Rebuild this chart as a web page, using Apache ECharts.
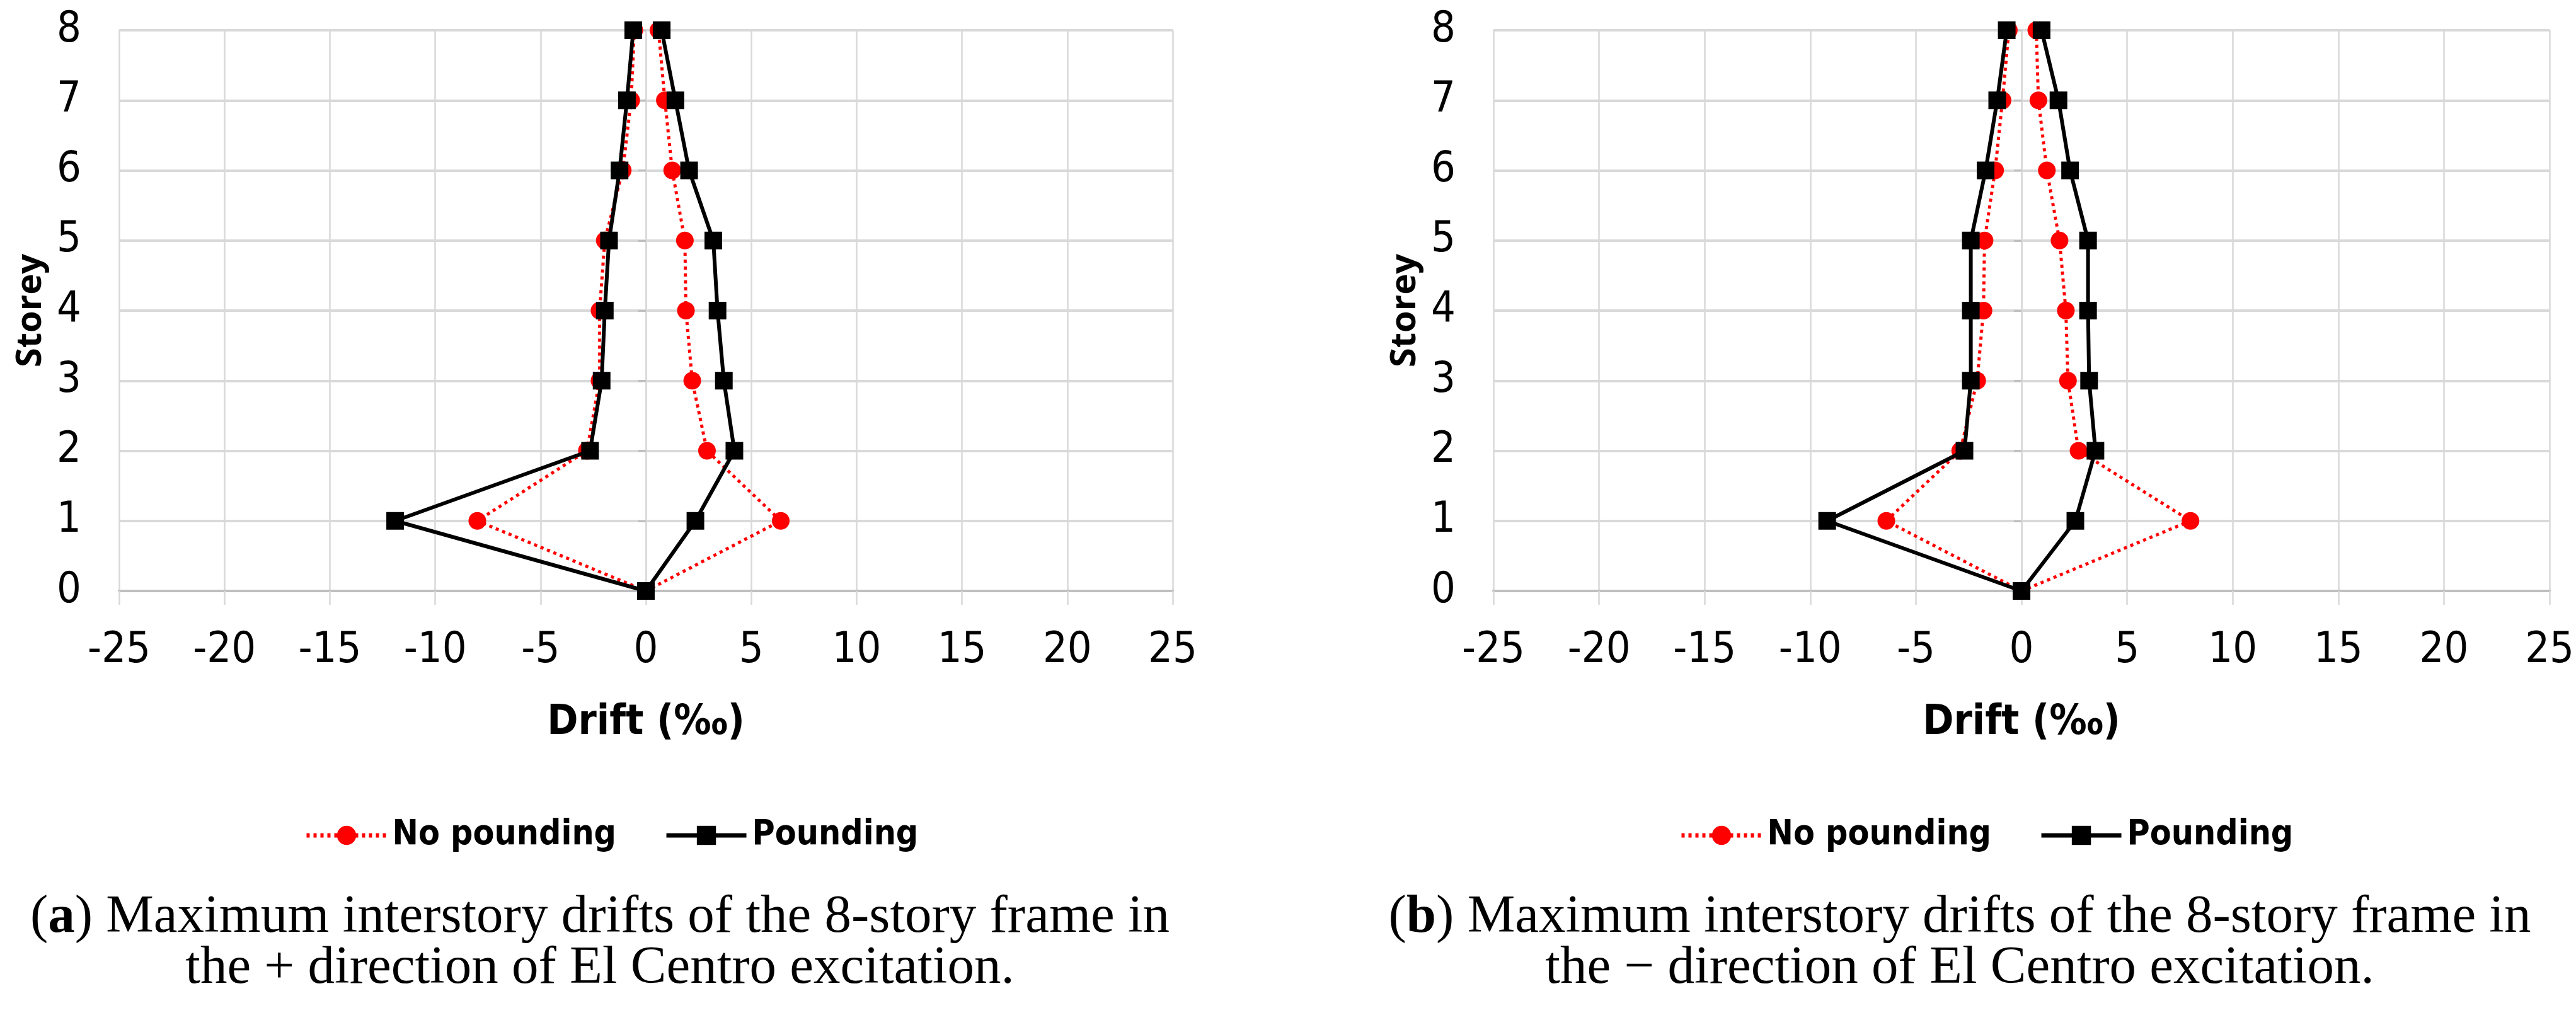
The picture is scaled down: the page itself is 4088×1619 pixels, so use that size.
<!DOCTYPE html>
<html lang="en">
<head>
    <meta charset="UTF-8">
    <title>Maximum interstory drifts</title>
    <script src="https://cdn.jsdelivr.net/npm/echarts/dist/echarts.min.js"></script>
</head>
<body style="margin: 0; background: #fff">
    <div id="chart" style="width: 4088px; height: 1619px;"></div>
    <script>
        // storeys 0..8 (y axis)
        const storeys = [0, 1, 2, 3, 4, 5, 6, 7, 8];

        // (a) + direction of El Centro, drift in ‰
        const noPoundPosA = [0, 6.4, 2.9, 2.2, 1.9, 1.85, 1.25, 0.9, 0.6];
        const noPoundNegA = [0, -8.0, -2.8, -2.2, -2.2, -1.95, -1.1, -0.7, -0.55];
        const poundPosA = [0, 2.35, 4.2, 3.7, 3.4, 3.2, 2.05, 1.4, 0.75];
        const poundNegA = [0, -11.9, -2.65, -2.1, -1.95, -1.75, -1.25, -0.9, -0.6];

        // (b) − direction of El Centro
        const noPoundPosB = [0, 8.0, 2.7, 2.2, 2.1, 1.8, 1.2, 0.8, 0.7];
        const noPoundNegB = [0, -6.4, -2.9, -2.1, -1.8, -1.75, -1.25, -0.9, -0.6];
        const poundPosB = [0, 2.55, 3.5, 3.2, 3.15, 3.15, 2.3, 1.75, 0.95];
        const poundNegB = [0, -9.2, -2.7, -2.4, -2.4, -2.4, -1.7, -1.15, -0.7];

        const seriesNames = ['No pounding', 'Pounding'];
        const captionsA = ['({b|a}) Maximum interstory drifts of the 8-story frame in', 'the + direction of El Centro excitation.'];
        const captionsB = ['({b|b}) Maximum interstory drifts of the 8-story frame in', 'the \u2212 direction of El Centro excitation.'];

        const narrow = "'Liberation Sans Narrow', 'DejaVu Sans Condensed', 'Liberation Sans', sans-serif";
        const serif = "'Liberation Serif', 'DejaVu Serif', serif";
        const grid = '#d9d9d9';

        const chart = echarts.init(document.getElementById('chart'));

        function pairs(xs) {
            return xs.map((x, i) => [x, storeys[i]]);
        }

        function redLine(xs, gi) {
            return {
                name: seriesNames[0], type: 'line', xAxisIndex: gi, yAxisIndex: gi * 2,
                data: pairs(xs), symbol: 'circle', symbolSize: 28,
                itemStyle: { color: '#ff0000' },
                lineStyle: { color: '#ff0000', width: 5, type: [5, 6] },
                z: 3
            };
        }

        function blackLine(xs, gi) {
            return {
                name: seriesNames[1], type: 'line', xAxisIndex: gi, yAxisIndex: gi * 2,
                data: pairs(xs), symbol: 'rect', symbolSize: 28,
                itemStyle: { color: '#000' },
                lineStyle: { color: '#000', width: 6 },
                z: 4
            };
        }

        function xAxis(gi) {
            return {
                type: 'value', gridIndex: gi, min: -25, max: 25, interval: 5,
                name: 'Drift (\u2030)', nameLocation: 'middle', nameGap: 175,
                nameTextStyle: { fontFamily: narrow, fontSize: 66, fontWeight: 'bold', color: '#000', lineHeight: 70 },
                axisLine: { show: true, onZero: false, lineStyle: { color: '#bfbfbf', width: 4 } },
                axisTick: { show: true, length: 22, lineStyle: { color: grid, width: 2.5 } },
                axisLabel: { fontFamily: narrow, fontSize: 68, color: '#000', margin: 60, lineHeight: 70 },
                splitLine: { show: true, lineStyle: { color: grid, width: 2.5 } }
            };
        }

        function yAxes(gi) {
            return [{
                type: 'value', gridIndex: gi, min: 0, max: 8, interval: 1, position: 'left',
                name: 'Storey', nameLocation: 'middle', nameGap: 112,
                nameTextStyle: { fontFamily: "'Open Sans', sans-serif", fontSize: 56, fontWeight: 'bold', color: '#000' },
                axisLine: { show: false, onZero: false },
                axisTick: { show: false },
                axisLabel: { fontFamily: narrow, fontSize: 68, color: '#000', margin: 60 },
                splitLine: { show: true, lineStyle: { color: grid, width: 4 } }
            }, {
                // y axis line crossing at x = 0
                type: 'value', gridIndex: gi, min: 0, max: 8, interval: 1, position: 'left',
                axisLine: { show: true, onZero: true, lineStyle: { color: grid, width: 2.5 } },
                axisTick: { show: true, length: 12, lineStyle: { color: '#bfbfbf', width: 3 } },
                axisLabel: { show: false },
                splitLine: { show: false }
            }];
        }

        function legend(left) {
            return {
                data: seriesNames, left: left, top: 1286, orient: 'horizontal',
                itemWidth: 127, itemHeight: 38, itemGap: 76,
                lineStyle: { width: 7 },
                textStyle: { fontFamily: narrow, fontSize: 55, fontWeight: 'bold', color: '#000', lineHeight: 70, padding: [0, 0, 0, 4] }
            };
        }

        function caption(lines, cx) {
            return lines.map((t, i) => ({
                type: 'text', x: cx, y: 1457 + i * 81,
                style: {
                    text: t, fontFamily: serif, fontSize: 85, fill: '#000',
                    align: 'center', verticalAlign: 'middle',
                    textAlign: 'center', textVerticalAlign: 'middle',
                    rich: { b: { fontFamily: serif, fontSize: 85, fontWeight: 'bold', fill: '#000' } }
                }
            }));
        }

        const option = {
            backgroundColor: '#fff',
            animation: false,
            grid: [
                { left: 189, top: 48, width: 1672, height: 890 },
                { left: 2370, top: 48, width: 1679, height: 890 }
            ],
            xAxis: [xAxis(0), xAxis(1)],
            yAxis: yAxes(0).concat(yAxes(1)),
            legend: [legend(478), legend(2660)],
            series: [
                redLine(noPoundPosA, 0), redLine(noPoundNegA, 0),
                blackLine(poundPosA, 0), blackLine(poundNegA, 0),
                redLine(noPoundPosB, 1), redLine(noPoundNegB, 1),
                blackLine(poundPosB, 1), blackLine(poundNegB, 1)
            ],
            graphic: caption(captionsA, 952).concat(caption(captionsB, 3110))
        };

        chart.setOption(option);
    </script>
</body>
</html>
